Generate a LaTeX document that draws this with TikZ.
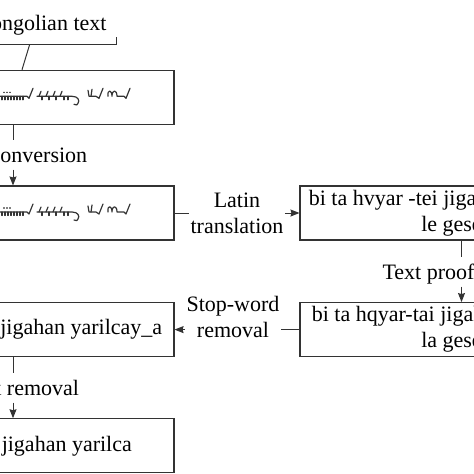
\documentclass[tikz,border=0pt]{standalone}
\usepackage{fontspec}
\setmainfont{Liberation Serif}
\usetikzlibrary{arrows.meta,calc}

\begin{document}
\begin{tikzpicture}[x=1pt,y=-1pt,line width=1pt,draw=black!80,
    every node/.style={font=\fontsize{22}{26}\selectfont},
    stagebox/.style={draw=black!80,line width=1.1pt,minimum width=314pt,
      minimum height=54pt,inner sep=0pt,align=center},
    steplabel/.style={inner xsep=1pt,inner ysep=7pt,text height=15pt,text depth=0pt},
    sidelabel/.style={inner sep=1pt,align=center},
    flow/.style={-{Stealth[length=9pt,width=7pt,inset=1pt]}},
    glyph/.style={line width=1.2pt,line cap=round,line join=round}]
  \useasboundingbox (0,0) rectangle (474,474);
  \clip (0,0) rectangle (474,474);

  % stages
  \node[stagebox] (mong1) at (17,97.3) {};
  \node[stagebox] (mong2) at (17,213) {};
  \node[stagebox] (latin) at (457,213) {bi ta hvyar -tei jigahan yarilcay\_a\\le gesen};
  \node[stagebox] (proof) at (457,329.6) {bi ta hqyar-tai jigahan yarilcay\_a\\la gesen};
  \node[stagebox] (nostop) at (17,329.6) {bi ta hqyar-tai jigahan yarilcay\_a};
  \node[stagebox] (stem) at (17,445.8) {bi ta hqyar jigahan yarilca};

  % mongolian script, drawn
  \foreach \b in {mong1,mong2} {
    \begin{scope}[shift={($(\b.center)+(-17,0)$)},glyph]
      \draw (-12,-1) -- (27,-1) -- (29,1) -- (33,-9);
      \foreach \t in {-10,-7,...,25} \draw (\t,-1) -- ++(0,3.5);
      \foreach \d in {4,7,10} \fill (\d,-5) circle[radius=0.8];
      \draw (37,-1) -- (72,-1) .. controls (78,-1) and (80,3) .. (78,6)
        .. controls (77,8) .. (74,7);
      \foreach \t in {39,46,53,60} \draw (\t,-1) -- ++(2,-5);
      \foreach \t in {42,49,56,64,68} \draw (\t,-1) -- ++(0,3.5);
      \draw (88,-7) -- (89,-1) -- (96,-1) -- (99,1) -- (103,-9);
      \draw (91,-1) -- (92,-8);
      \draw (108,-1) .. controls (107,-8) and (112,-8) .. (112,-1)
        .. controls (112,-8) and (117,-8) .. (117,-1) -- (124,-1) -- (126,1) -- (130,-9);
    \end{scope}
  }

  % input label
  \node[inner xsep=9pt,inner ysep=2pt,anchor=base east] (mongtext) at (116,30) {Mongolian text};
  \draw (mongtext.south west) -- ++(0,7) -| (mongtext.south east);
  \coordinate (tap) at ($(mongtext.south west)!0.44!(mongtext.south east)+(0,7)$);
  \draw (tap) -- ([xshift=5pt]mong1.north);

  % vertical steps
  \node[steplabel,anchor=base] (conv) at (13,162) {Code conversion};
  \node[steplabel,anchor=base] (textproof) at (461.5,279) {Text proofreading};
  \node[steplabel,anchor=base] (suffix) at (13,395) {Suffix removal};

  \draw (mong1.south -| conv) -- (conv.north);
  \draw[flow] (conv.south) -- (mong2.north -| conv);
  \draw (latin.south -| textproof) -- (textproof.north);
  \draw[flow] (textproof.south) -- (proof.north -| textproof);
  \draw (nostop.south -| suffix) -- (suffix.north);
  \draw[flow] (suffix.south) -- (stem.north -| suffix);

  % horizontal steps
  \node[sidelabel] (translit) at ($(mong2.east)!0.5!(latin.west)$) {Latin\\translation};
  \draw (mong2.east) -- (mong2.east -| translit.west);
  \draw[flow] (latin.west -| translit.east) -- (latin.west);

  \node[sidelabel,xshift=-4pt,yshift=13pt] (stopword) at ($(nostop.east)!0.5!(proof.west)$) {Stop-word\\removal};
  \draw (proof.west) -- (proof.west -| stopword.east);
  \draw[flow] (nostop.east -| stopword.west) -- (nostop.east);
\end{tikzpicture}
\end{document}
